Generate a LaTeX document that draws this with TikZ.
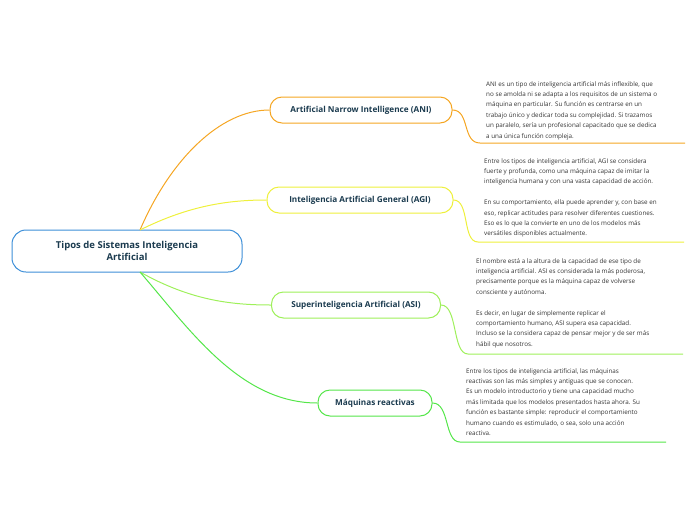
\documentclass[tikz,border=0pt]{standalone}
\usepackage{fontspec}
\setmainfont{Open Sans}
\definecolor{cor}{HTML}{F5A623}
\definecolor{cye}{HTML}{EEF03C}
\definecolor{cli}{HTML}{9EF05A}
\definecolor{cgr}{HTML}{55E64A}
\definecolor{cbl}{HTML}{3D8FD8}
\definecolor{ctx}{HTML}{1B3B4F}
\begin{document}
\begin{tikzpicture}[x=1pt,y=-1pt,
  branch/.style={draw=#1,line width=1pt,rounded corners=12pt,fill=white,font=\fontsize{8.2}{10}\selectfont\bfseries,text=ctx,minimum height=26pt,inner xsep=8pt},
  note/.style={anchor=north west,align=left,font=\fontsize{6.3}{10.4}\selectfont,text=black!80,inner sep=0pt},
  link/.style={draw=#1,line width=1pt}]
\useasboundingbox (0,0) rectangle (696,520);
\node[draw=cbl,line width=1pt,rounded corners=14pt,fill=white,minimum width=230pt,minimum height=42pt,align=center,font=\fontsize{9.5}{12}\selectfont\bfseries,text=ctx] (root) at (127,251) {Tipos de Sistemas Inteligencia\\Artificial};
\node[branch=cor,minimum width=182pt] (ani) at (361,110) {Artificial Narrow Intelligence (ANI)};
\node[branch=cye,minimum width=186pt] (agi) at (360,200) {Inteligencia Artificial General (AGI)};
\node[branch=cli,minimum width=169pt] (asi) at (356,305) {Superinteligencia Artificial (ASI)};
\node[branch=cgr,minimum width=114pt] (maq) at (375,403) {Máquinas reactivas};
\coordinate (rt) at (140,230);
\coordinate (rb) at (140,272);
\begin{scope}[on background layer/.style={}]
\end{scope}
\draw[link=cor] (rt) .. controls (170,160) and (220,110) .. (ani.west);
\draw[link=cye] (rt) .. controls (190,205) and (230,200) .. (agi.west);
\draw[link=cli] (rb) .. controls (190,300) and (230,305) .. (asi.west);
\draw[link=cgr] (rb) .. controls (190,330) and (240,403) .. (maq.west);
% notes
\node[note] (tani) at (486,81) {ANI es un tipo de inteligencia artificial más inflexible, que\\no se amolda ni se adapta a los requisitos de un sistema o\\máquina en particular. Su función es centrarse en un\\trabajo único y dedicar toda su complejidad. Si trazamos\\un paralelo, sería un profesional capacitado que se dedica\\a una única función compleja.};
\node[note] (tagi) at (484,158) {Entre los tipos de inteligencia artificial, AGI se considera\\fuerte y profunda, como una máquina capaz de imitar la\\inteligencia humana y con una vasta capacidad de acción.\\[10.4pt]En su comportamiento, ella puede aprender y, con base en\\eso, replicar actitudes para resolver diferentes cuestiones.\\Eso es lo que la convierte en uno de los modelos más\\versátiles disponibles actualmente.};
\node[note] (tasi) at (476,258) {El nombre está a la altura de la capacidad de ese tipo de\\inteligencia artificial. ASI es considerada la más poderosa,\\precisamente porque es la máquina capaz de volverse\\consciente y autónoma.\\[10.4pt]Es decir, en lugar de simplemente replicar el\\comportamiento humano, ASI supera esa capacidad.\\Incluso se la considera capaz de pensar mejor y de ser más\\hábil que nosotros.};
\node[note] (tmaq) at (466,368) {Entre los tipos de inteligencia artificial, las máquinas\\reactivas son las más simples y antiguas que se conocen.\\Es un modelo introductorio y tiene una capacidad mucho\\más limitada que los modelos presentados hasta ahora. Su\\función es bastante simple: reproducir el comportamiento\\humano cuando es estimulado, o sea, solo una acción\\reactiva.};
\coordinate (uani) at (480,143); \coordinate (eani) at (685,143);
\coordinate (uagi) at (478,242); \coordinate (eagi) at (684,242);
\coordinate (uasi) at (468,354); \coordinate (easi) at (683,354);
\coordinate (umaq) at (460,442); \coordinate (emaq) at (666,442);
\draw[link=cor] (ani.east) .. controls (470,110) and (462,143) .. (uani) -- (eani);
\draw[link=cye] (agi.east) .. controls (470,200) and (462,242) .. (uagi) -- (eagi);
\draw[link=cli] (asi.east) .. controls (458,305) and (452,354) .. (uasi) -- (easi);
\draw[link=cgr] (maq.east) .. controls (450,403) and (444,442) .. (umaq) -- (emaq);
\end{tikzpicture}
\end{document}
